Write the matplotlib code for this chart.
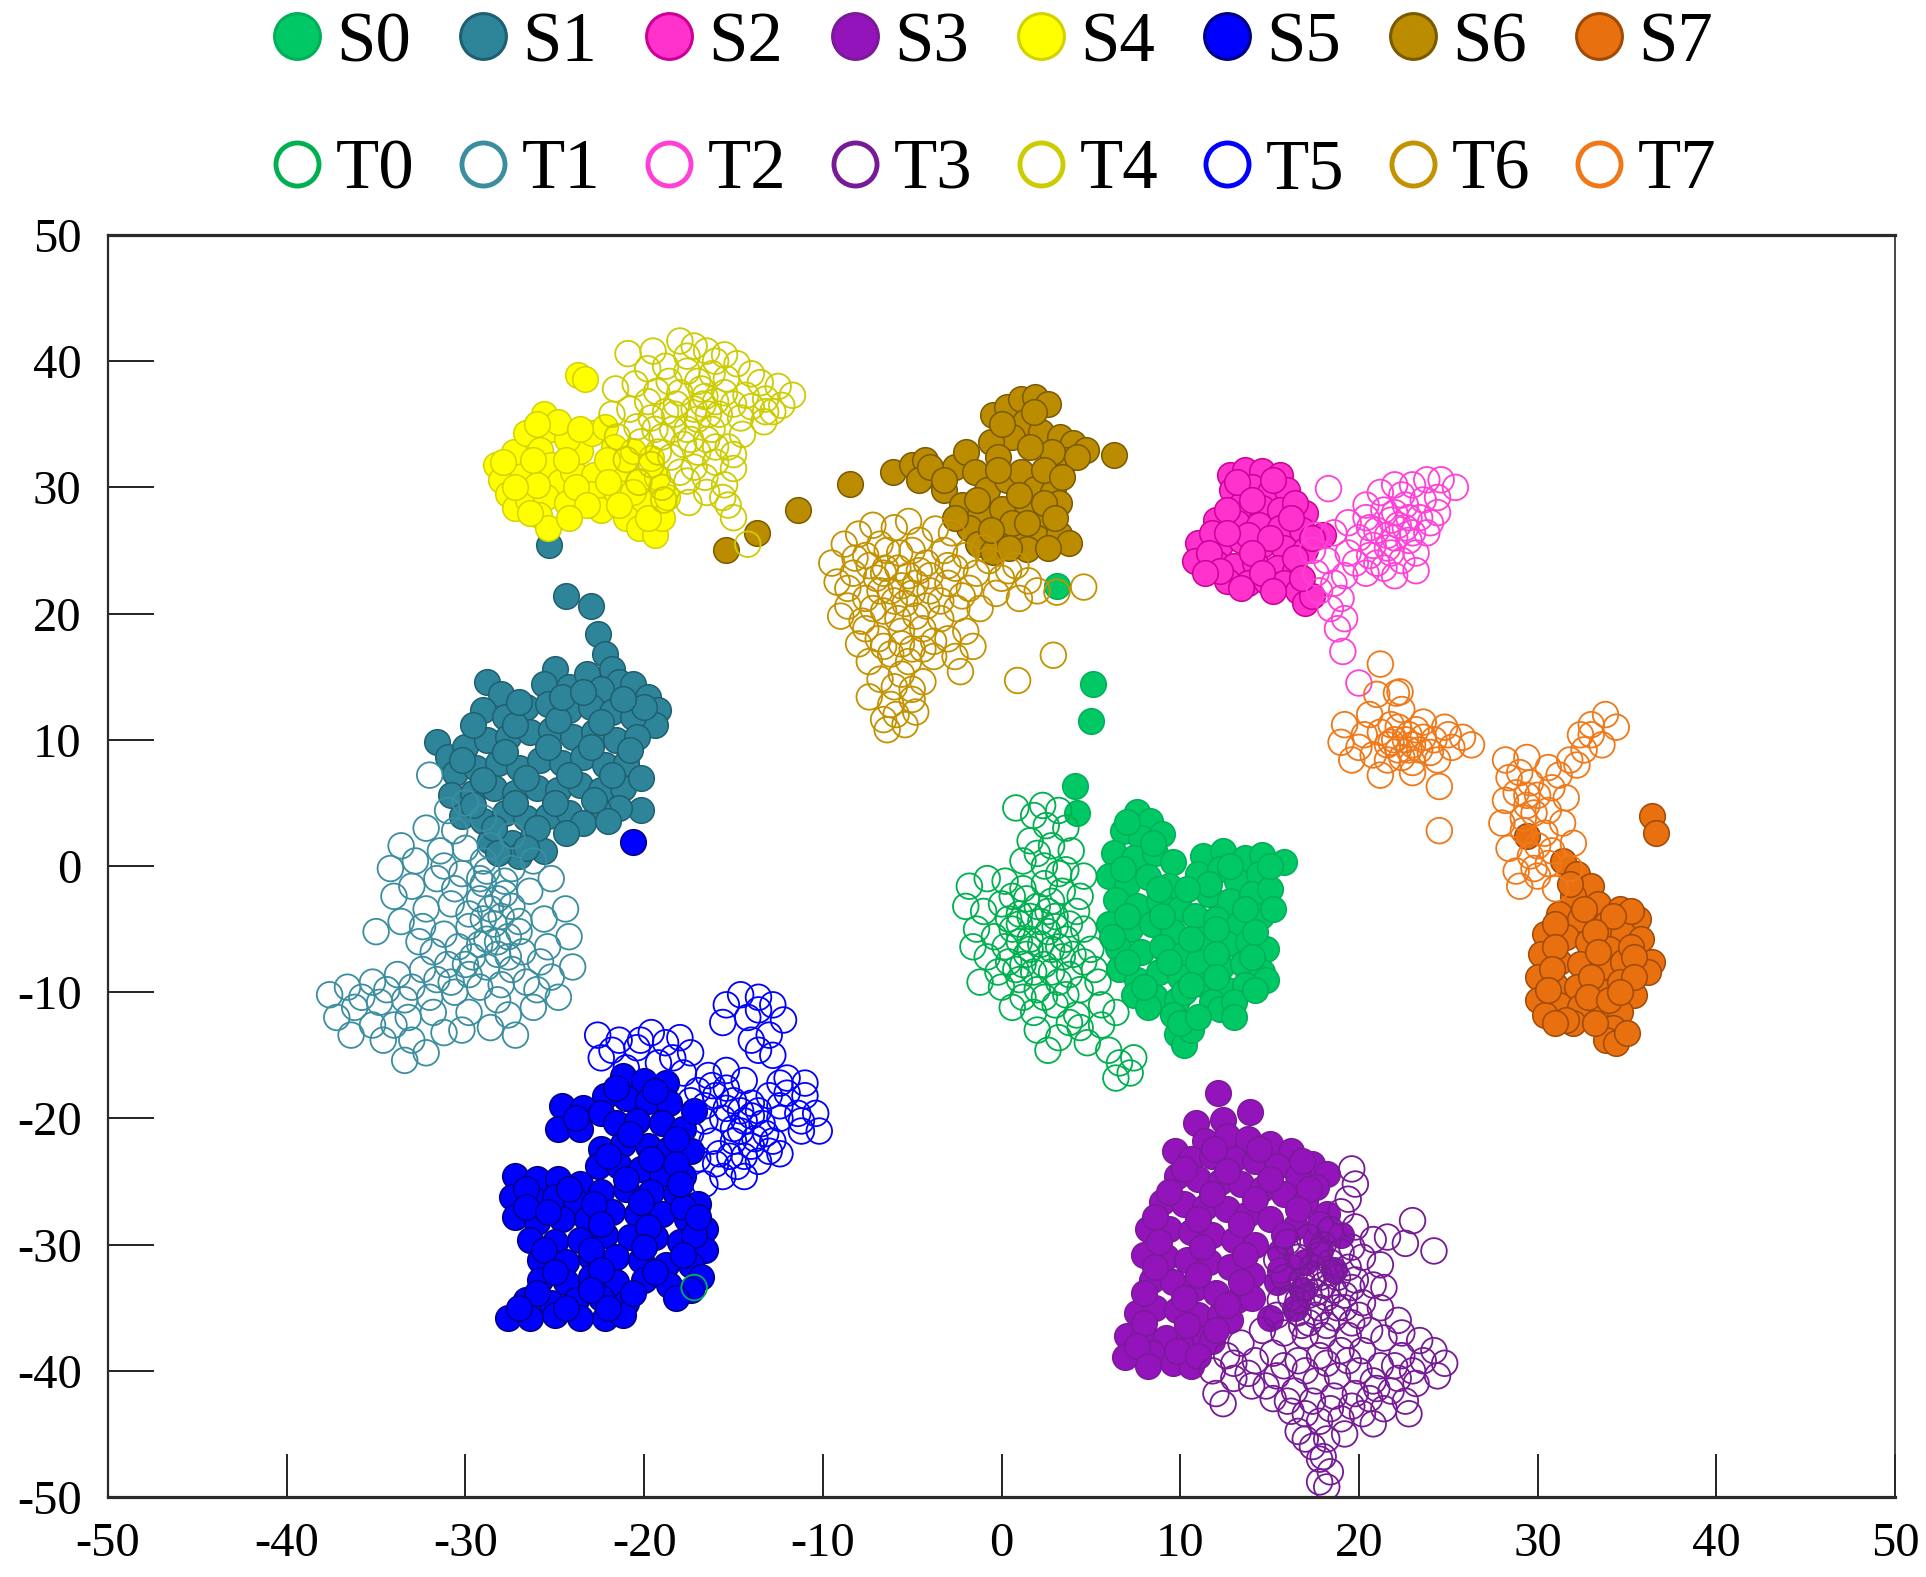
import numpy as np
import matplotlib
matplotlib.use('Agg')
import matplotlib.pyplot as plt
from matplotlib.lines import Line2D

plt.rcParams['font.family'] = ['Liberation Serif', 'DejaVu Serif']
plt.rcParams['axes.unicode_minus'] = False

# ---- source domain (filled) ----
s0 = np.array([(7.6,4.3),(8.3,3.6),(6.8,2.8),(7.8,2.2),(9.0,2.5),(6.3,1.0),(7.4,0.6),(8.6,1.0),(9.6,0.3),
      (6.0,-0.8),(7.0,-1.4),(8.2,-0.9),(9.4,-1.6),(6.4,-2.7),(7.6,-3.2),(8.8,-2.8),(10.0,-3.4),(6.0,-4.6),
      (7.2,-5.0),(8.4,-4.6),(9.6,-5.2),(6.5,-6.5),(7.8,-6.8),(9.0,-6.4),(10.2,-7.0),(6.6,-8.2),(7.6,-9.0),
      (8.8,-8.4),(10.0,-8.8),(7.4,-10.2),(8.6,-10.4),(9.8,-10.6),(9.6,-11.8),(10.4,-12.4),(9.8,-13.3),
      (10.2,-14.2),(10.6,-13.0),(8.2,-11.2),(11.3,0.8),(12.4,1.2),(13.6,0.6),(14.6,0.9),(15.8,0.3),
      (11.0,-0.6),(12.2,-0.2),(13.2,-1.2),(14.4,-0.6),(11.6,-2.2),(12.8,-2.8),(14.0,-2.2),(15.0,-1.8),
      (10.8,-4.0),(12.0,-4.2),(13.3,-4.6),(14.5,-4.0),(11.3,-5.8),(12.6,-6.2),(13.8,-6.0),(14.8,-6.6),
      (11.0,-7.6),(12.3,-8.0),(13.5,-7.8),(14.6,-8.4),(11.4,-9.4),(12.6,-9.8),(13.6,-9.4),(14.8,-9.0),
      (11.8,-10.8),(12.2,-11.3),(13.0,-10.8),(3.1,22.2),(5.1,14.4),(5.0,11.5),(4.1,6.3),(4.2,4.2),
      (7.0,3.5),(8.5,1.8),(6.8,-0.2),(8.8,-1.8),(7.0,-4.0),(9.0,-4.0),(7.0,-7.6),(9.4,-7.6),(8.0,-9.6),
      (6.2,-5.6),(10.2,-10.0),(10.0,-12.4),(11.6,-1.4),(13.6,-3.4),(12.0,-5.0),(14.2,-5.2),(12.0,-7.0),
      (14.0,-7.2),(12.0,-8.8),(14.2,-9.8),(12.8,0.0),(15.0,0.0),(13.0,-12.0),(11.0,-12.0),(15.2,-3.4),
      (10.4,-1.8),(10.6,-5.8),(10.6,-9.4)])
s1 = np.array([(-25.3,25.4),(-24.4,21.4),(-23.0,20.6),(-22.6,18.4),(-22.2,16.8),(-21.8,15.6),(-21.4,14.6),
      (-28.8,14.6),(-28.0,13.6),(-25.0,15.6),(-25.6,14.4),(-24.2,14.2),(-23.2,15.2),(-22.4,14.0),(-20.6,14.4),
      (-19.8,13.4),(-19.2,12.4),(-19.4,11.2),(-29.0,12.4),(-27.8,11.8),(-26.6,12.6),(-25.4,12.8),(-24.2,12.4),
      (-23.0,12.6),(-21.8,12.2),(-20.6,11.8),(-31.6,9.8),(-31.0,8.6),(-30.0,9.4),(-28.8,10.0),(-27.6,10.2),
      (-26.4,10.6),(-25.2,10.8),(-24.0,10.2),(-22.8,10.6),(-21.6,10.0),(-20.4,10.2),(-30.6,7.4),(-29.4,7.8),
      (-28.2,8.2),(-27.0,7.8),(-25.8,8.4),(-24.6,8.2),(-23.4,8.6),(-22.2,8.0),(-21.0,8.2),(-30.8,5.6),
      (-29.6,5.8),(-28.4,6.2),(-27.2,5.8),(-26.0,6.2),(-24.8,6.0),(-23.6,6.4),(-22.4,6.0),(-21.2,6.2),
      (-20.2,4.4),(-21.4,4.6),(-22.6,4.4),(-30.2,4.0),(-29.0,3.6),(-27.8,4.2),(-26.6,3.8),(-25.4,4.0),
      (-24.2,4.2),(-28.6,2.0),(-27.4,1.8),(-26.2,2.4),(-27.0,0.8),(-25.6,1.2),
      (-29.6,11.2),(-27.2,11.2),(-24.8,11.6),(-22.4,11.4),(-20.0,12.6),(-30.2,8.4),(-27.8,9.0),(-25.4,9.4),
      (-23.0,9.4),(-20.8,9.2),(-29.0,6.8),(-26.6,7.0),(-24.2,7.2),(-21.8,7.2),(-20.2,7.0),(-29.6,4.8),
      (-27.2,5.0),(-25.0,5.0),(-22.8,5.2),(-28.4,3.0),(-26.0,3.0),(-23.4,3.4),(-28.2,1.0),(-26.6,1.4),
      (-27.0,13.0),(-24.6,13.4),(-21.2,13.2),(-23.4,13.8),(-22.0,3.6),(-24.4,2.6)])
s2 = np.array([(12.8,31.0),(13.6,31.4),(14.6,31.3),(15.6,31.0),(12.9,29.8),(14.0,30.0),(15.0,29.6),(16.0,29.8),
      (13.4,28.6),(14.6,28.4),(15.6,28.2),(17.0,28.0),(12.0,27.4),(13.2,27.2),(14.4,27.0),(15.6,26.8),
      (16.8,26.6),(18.0,26.2),(11.0,25.6),(12.2,25.4),(13.4,25.8),(14.6,25.4),(15.8,25.2),(17.0,25.0),
      (10.8,24.2),(12.0,24.0),(13.0,23.8),(14.2,24.0),(15.4,23.6),(16.4,23.4),(12.6,22.6),(13.8,22.4),
      (14.8,22.6),(15.8,22.4),(16.6,21.8),(17.0,20.8),(17.4,21.4),(11.8,26.4),(13.4,22.0),
      (13.2,30.4),(15.2,30.6),(14.0,29.0),(16.4,28.8),(12.6,28.2),(13.8,26.2),(16.2,27.6),(12.6,26.4),
      (15.0,26.0),(17.4,26.0),(11.6,24.8),(14.0,24.8),(16.4,24.4),(12.2,23.4),(14.6,23.2),(16.8,22.8),
      (15.2,21.8),(11.4,23.2)])
s3 = np.array([(12.1,-18.0),(13.9,-19.5),(12.4,-20.1),(10.9,-20.4),(9.7,-22.6),(11.4,-21.8),(12.6,-21.4),
      (13.8,-21.6),(15.0,-22.0),(16.2,-22.6),(17.4,-23.6),(18.2,-24.4),(10.6,-23.2),(11.8,-23.0),(13.0,-23.2),
      (14.2,-23.4),(15.4,-23.8),(16.6,-24.6),(17.6,-25.4),(9.8,-24.6),(11.0,-24.8),(12.2,-25.0),(13.4,-25.2),
      (14.6,-25.6),(15.8,-26.0),(17.0,-26.6),(18.2,-27.6),(9.0,-26.6),(10.2,-26.8),(11.4,-27.0),(12.6,-27.2),
      (13.8,-27.6),(15.0,-28.0),(16.4,-28.6),(17.6,-29.6),(8.2,-28.8),(9.4,-28.8),(10.6,-29.0),(11.8,-29.2),
      (13.0,-29.6),(14.2,-30.0),(15.6,-30.6),(17.0,-31.4),(18.6,-32.0),(8.0,-30.8),(9.2,-31.0),(10.4,-31.2),
      (11.6,-31.4),(12.8,-31.8),(14.0,-32.4),(15.4,-33.0),(16.8,-33.6),(8.4,-32.8),(9.6,-33.0),(10.8,-33.4),
      (12.0,-33.8),(13.2,-34.4),(14.0,-34.2),(7.6,-35.4),(8.6,-35.0),(9.8,-35.2),(11.0,-35.6),(12.2,-35.6),
      (12.8,-36.0),(7.0,-37.2),(8.0,-37.0),(9.2,-37.4),(10.4,-37.8),(11.4,-37.4),(11.8,-37.6),(6.9,-38.9),
      (8.4,-38.6),(9.6,-39.4),(10.6,-39.6),
      (11.9,-22.4),(14.4,-22.4),(16.8,-23.4),(10.2,-24.0),(12.6,-24.2),(15.0,-24.8),(17.2,-25.6),(9.4,-25.8),
      (11.8,-26.0),(14.2,-26.4),(16.6,-27.2),(8.6,-27.8),(11.0,-28.0),(13.4,-28.4),(15.8,-29.2),(17.8,-28.4),
      (8.8,-29.8),(11.2,-30.2),(13.6,-30.8),(16.2,-31.8),(8.6,-31.8),(11.0,-32.4),(13.4,-33.0),(15.6,-32.0),
      (8.0,-33.8),(10.2,-34.2),(12.6,-34.8),(8.0,-36.2),(10.4,-36.4),(12.0,-36.8),(7.6,-38.0),(9.8,-38.4),
      (8.2,-39.6),(11.0,-38.8),(17.8,-30.4),(19.0,-29.2),(16.4,-35.0),(15.0,-35.8)])
s4 = np.array([(-28.3,31.8),(-28.0,30.6),(-27.6,29.5),(-27.2,28.4),(-26.5,29.0),(-26.8,31.0),(-27.3,32.8),
      (-26.6,34.3),(-25.6,35.8),(-25.2,34.6),(-25.8,33.0),(-25.2,31.8),(-24.7,30.4),(-25.5,29.2),(-25.9,27.8),
      (-25.4,26.8),(-24.3,28.8),(-24.0,31.2),(-23.6,32.9),(-24.3,33.8),(-22.9,34.3),(-22.2,34.8),(-21.7,33.2),
      (-22.8,31.0),(-23.0,29.5),(-22.4,28.2),(-21.6,29.7),(-21.2,31.5),(-20.6,32.9),(-20.3,30.5),(-20.0,28.9),
      (-21.0,27.6),(-20.3,26.8),(-19.4,26.2),(-19.0,27.6),(-18.7,29.2),(-19.3,30.8),(-19.6,32.3),(-23.7,38.9),
      (-23.3,38.6),(-26.0,30.2),(-23.8,30.0),(-22.1,32.2),(-27.9,32.0),(-24.8,35.2),
      (-27.2,30.0),(-26.2,32.2),(-24.4,32.2),(-23.2,28.6),(-22.0,30.4),(-20.6,29.6),(-19.8,27.6),(-24.2,27.6),
      (-26.0,35.0),(-23.6,34.6),(-21.4,28.6),(-26.4,28.0)])
s5 = np.array([(-21.2,-16.6),(-20.0,-17.0),(-18.8,-17.2),(-22.2,-18.2),(-21.0,-18.4),(-19.8,-18.6),(-18.6,-18.8),
      (-24.6,-19.0),(-23.4,-19.2),(-22.4,-19.6),(-24.8,-20.8),(-23.6,-20.8),(-21.6,-20.4),(-20.4,-20.2),
      (-19.0,-20.4),(-17.8,-20.8),(-17.2,-19.4),(-22.4,-22.4),(-21.2,-22.0),(-19.8,-22.2),(-18.6,-22.4),
      (-17.4,-22.6),(-22.6,-23.8),(-21.4,-23.8),(-20.2,-24.0),(-19.0,-24.4),(-17.8,-24.6),(-27.2,-24.6),
      (-26.0,-24.8),(-24.8,-24.8),(-23.6,-25.2),(-27.4,-26.2),(-26.2,-26.4),(-25.0,-26.2),(-23.8,-26.6),
      (-22.4,-25.8),(-21.0,-25.6),(-19.6,-25.8),(-18.2,-26.0),(-17.0,-26.8),(-27.2,-27.8),(-26.0,-28.2),
      (-24.6,-28.0),(-23.2,-28.0),(-21.8,-27.4),(-20.4,-27.6),(-19.0,-27.6),(-17.6,-28.0),(-16.6,-28.8),
      (-26.4,-29.6),(-25.0,-29.8),(-23.6,-29.6),(-22.2,-29.2),(-20.8,-29.4),(-19.4,-29.4),(-18.0,-29.8),
      (-16.6,-30.4),(-25.8,-31.2),(-24.4,-31.4),(-23.0,-31.0),(-21.6,-31.0),(-20.2,-31.2),(-18.8,-31.6),
      (-17.4,-31.6),(-16.8,-32.6),(-25.8,-32.8),(-24.4,-33.0),(-23.0,-32.6),(-21.6,-33.0),(-20.0,-32.8),
      (-18.6,-33.2),(-17.4,-33.6),(-26.6,-34.4),(-25.2,-34.6),(-23.8,-34.4),(-22.4,-34.2),(-21.0,-34.6),
      (-27.6,-35.8),(-26.4,-35.8),(-25.0,-35.6),(-23.6,-35.8),(-22.2,-35.8),(-21.2,-35.6),(-20.6,1.9),
      (-21.6,-17.6),(-19.4,-17.8),(-23.8,-20.0),(-20.8,-21.2),(-18.2,-21.6),(-22.0,-23.0),(-19.6,-23.2),
      (-18.2,-23.6),(-21.0,-24.8),(-26.6,-25.6),(-24.2,-25.6),(-22.8,-26.8),(-20.2,-26.6),(-17.8,-27.0),
      (-26.6,-27.0),(-25.4,-27.4),(-22.4,-28.4),(-19.8,-28.6),(-17.2,-29.2),(-25.6,-30.4),(-23.0,-30.4),
      (-20.0,-30.2),(-17.8,-30.8),(-25.0,-32.2),(-22.4,-32.0),(-19.4,-32.2),(-26.0,-33.8),(-23.0,-33.6),
      (-20.6,-33.8),(-18.2,-34.2),(-27.0,-35.0),(-24.4,-35.0),(-22.0,-35.0),(-17.0,-27.8),(-18.0,-25.2)])
s6 = np.array([(-15.4,25.0),(-13.7,26.4),(-11.4,28.2),(-8.5,30.3),(-6.1,31.2),(6.3,32.6),(-5.0,31.8),(-4.3,32.2),
      (-3.8,31.0),(-4.6,30.6),(-3.2,29.8),(-2.6,31.6),(-2.0,32.8),(-0.5,35.7),(0.3,36.4),(1.1,37.0),(1.9,37.2),
      (2.6,36.6),(1.3,35.2),(2.2,34.4),(0.6,34.0),(-0.6,33.6),(3.3,34.0),(4.0,33.5),(4.7,33.0),(3.6,32.2),
      (2.8,32.8),(-1.5,31.2),(-0.8,29.8),(0.3,30.6),(1.1,31.2),(1.9,29.9),(2.9,29.6),(3.2,28.8),(-2.2,28.6),
      (-1.2,27.8),(0.0,28.3),(1.5,28.4),(2.5,27.4),(-1.8,26.8),(-1.3,25.5),(-0.2,25.8),(0.8,26.2),(2.0,26.0),
      (3.2,26.3),(3.8,25.6),(1.4,25.1),(-0.5,24.9),
      (-4.0,31.6),(-3.2,30.6),(0.0,35.0),(1.8,36.0),(1.6,33.2),(-0.2,32.4),(2.4,31.4),(4.2,32.4),(-0.2,31.4),
      (1.0,29.4),(2.4,28.8),(-1.4,29.0),(0.6,27.2),(-0.6,26.6),(1.4,27.2),(3.0,27.6),(2.6,25.2),(0.4,25.2),
      (3.4,30.8),(-2.6,27.6)])
s7 = np.array([(31.4,0.4),(32.2,-0.6),(33.0,-1.6),(32.0,-2.4),(33.4,-3.0),(34.6,-3.4),(35.6,-4.2),(31.2,-3.8),
      (32.4,-4.2),(33.8,-4.6),(34.8,-5.4),(35.8,-5.8),(30.4,-5.4),(31.6,-5.6),(32.8,-6.0),(34.0,-6.6),
      (30.2,-7.0),(31.2,-7.6),(32.4,-7.8),(33.6,-8.0),(34.8,-7.6),(36.4,-7.6),(36.2,-8.4),(30.0,-8.8),
      (31.0,-9.4),(32.2,-9.6),(33.4,-9.8),(34.6,-9.2),(35.4,-10.2),(30.0,-10.6),(31.2,-11.0),(32.4,-11.2),
      (33.6,-11.4),(34.6,-11.6),(30.4,-11.8),(32.0,-12.4),(34.2,-12.8),(33.8,-13.8),(34.4,-14.0),(35.0,-13.2),
      (29.4,2.4),(36.4,4.0),(36.6,2.6),(35.2,-3.6),
      (31.8,-1.4),(32.6,-3.4),(34.2,-4.0),(31.0,-4.6),(33.2,-5.2),(35.2,-6.4),(31.0,-6.4),(33.4,-6.8),
      (35.4,-7.2),(30.8,-8.2),(33.0,-8.8),(35.4,-8.8),(30.6,-9.8),(32.8,-10.4),(34.0,-10.6),(31.6,-12.2),
      (33.2,-12.4),(31.0,-12.4),(34.6,-10.0)])

# ---- target domain (hollow) ----
t0 = np.array([(2.3,4.8),(3.2,4.4),(2.5,3.2),(3.6,3.0),(1.6,2.0),(2.8,1.6),(3.9,1.2),(1.2,0.4),(2.4,0.0),
      (3.6,-0.3),(4.6,-0.8),(-1.8,-1.6),(-0.8,-1.0),(0.2,-1.2),(1.2,-1.8),(2.4,-1.4),(3.4,-2.0),(4.4,-2.4),
      (-2.0,-3.2),(-1.0,-3.6),(0.0,-3.0),(1.0,-3.8),(2.0,-3.2),(3.0,-4.0),(4.2,-3.6),(-1.4,-5.0),(-0.4,-5.6),
      (0.6,-5.0),(1.6,-5.8),(2.6,-5.2),(3.6,-5.8),(4.6,-5.0),(-0.8,-7.2),(0.4,-7.6),(1.4,-7.0),(2.4,-7.8),
      (3.4,-7.2),(4.6,-7.6),(-1.2,-9.2),(0.0,-9.6),(1.0,-9.0),(2.0,-9.8),(3.2,-9.2),(4.4,-9.8),(5.4,-9.2),
      (0.6,-11.2),(1.8,-11.6),(3.0,-11.0),(4.2,-11.8),(5.6,-11.0),(2.0,-13.0),(3.2,-13.6),(4.4,-12.8),
      (5.6,-12.6),(6.4,-11.6),(6.0,-14.6),(6.6,-15.6),(7.2,-16.4),(6.4,-16.8),(7.4,-15.2),(2.6,-14.6),
      (0.8,4.6),(1.8,4.0),(-17.2,-33.4),
      (1.0,-4.6),(2.2,-4.4),(3.0,-4.8),(1.6,-6.6),(2.8,-6.6),(1.8,-8.4),(2.8,-8.4),(3.8,-8.6),(0.8,-8.2),
      (1.4,-2.6),(2.8,-2.8),(0.6,-2.4),(3.2,-0.6),(2.0,1.0),(1.2,-10.4),(2.4,-10.4),(3.6,-10.2),(3.8,-12.4),
      (4.8,-14.0),(-1.6,-6.4),(5.0,-6.6),(5.2,-8.2),(-0.2,-8.4),
      (0.4,-4.2),(1.6,-4.0),(2.6,-3.6),(3.8,-4.6),(0.2,-6.4),(1.0,-6.0),(2.2,-6.2),(3.2,-6.4),(4.0,-7.0),
      (1.2,-7.8)])
t1 = np.array([(-32.0,7.2),(-31.0,4.4),(-30.0,5.0),(-29.0,3.8),(-30.6,2.8),(-32.2,3.0),(-33.6,1.6),(-34.2,-0.2),
      (-32.8,0.4),(-31.4,1.2),(-30.0,1.4),(-28.6,1.6),(-27.4,2.4),(-26.2,0.4),(-27.4,-0.2),(-28.8,-0.4),
      (-30.2,-0.6),(-31.6,-1.0),(-33.0,-1.6),(-34.0,-2.4),(-25.2,-1.0),(-26.4,-2.0),(-27.8,-2.2),(-29.2,-2.6),
      (-30.8,-3.0),(-32.2,-3.4),(-33.6,-4.4),(-35.0,-5.2),(-24.4,-3.4),(-25.6,-4.2),(-27.0,-4.4),(-28.4,-4.6),
      (-29.8,-4.8),(-31.2,-5.4),(-32.6,-6.0),(-24.2,-5.6),(-25.4,-6.4),(-26.8,-6.8),(-28.2,-7.0),(-29.6,-7.2),
      (-31.0,-7.8),(-32.4,-8.2),(-33.8,-8.6),(-35.2,-9.2),(-36.6,-9.6),(-37.6,-10.2),(-24.0,-8.0),(-25.2,-8.8),
      (-26.6,-9.2),(-28.0,-9.4),(-29.2,-9.6),(-30.6,-10.0),(-32.0,-10.4),(-33.4,-10.6),(-34.8,-10.8),
      (-36.2,-11.2),(-37.2,-12.0),(-36.4,-13.4),(-35.2,-12.6),(-34.0,-12.6),(-33.0,-13.8),(-32.2,-14.8),
      (-31.2,-13.2),(-33.4,-15.4),(-24.8,-10.4),(-26.2,-11.2),(-27.6,-11.8),(-28.6,-12.8),(-27.2,-13.4),
      (-29.8,-11.6),
      (-29.8,-3.8),(-28.6,-3.4),(-27.4,-3.2),(-28.8,-5.8),(-27.6,-5.6),(-30.4,-6.4),(-29.0,-1.4),(-27.8,-1.2),
      (-30.6,-1.8),(-29.8,-8.6),(-27.4,-8.2),(-31.6,-9.0),(-33.0,-9.6),(-34.4,-9.8),(-35.8,-10.4),(-33.2,-12.0),
      (-31.8,-11.6),(-30.2,-13.0),(-29.0,0.4),(-31.2,0.0),(-32.4,-4.8),(-25.8,-7.6),(-26.0,-9.8),(-28.2,-10.6),
      (-34.6,-13.8),
      (-29.2,-1.0),(-28.2,-2.6),(-29.0,-4.2),(-28.0,-4.0),(-27.0,-5.2),(-29.2,-6.2),(-28.2,-6.0),(-30.0,-7.8),
      (-28.8,-8.0),(-27.6,-7.2),(-31.8,-6.8),(-30.8,-9.2)])
t2 = np.array([(18.3,29.9),(21.2,29.6),(22.0,30.2),(23.0,30.2),(23.8,30.6),(24.6,30.6),(25.4,30.0),(23.6,29.0),
      (22.6,28.6),(21.4,28.2),(20.4,27.6),(19.4,27.2),(24.4,28.0),(23.4,27.6),(22.2,27.0),(21.0,26.6),
      (20.0,26.0),(18.6,26.4),(17.6,26.2),(23.8,26.4),(22.8,25.8),(21.6,25.2),(20.6,24.6),(19.4,24.8),
      (18.2,24.2),(22.4,24.2),(21.4,23.6),(20.4,23.2),(19.2,23.0),(23.2,24.8),(18.6,22.4),(17.8,21.8),
      (19.0,21.2),(18.4,20.4),(19.2,19.6),(18.8,18.8),(19.1,17.0),(20.0,14.5),(24.4,29.2),(17.4,25.0),
      (17.6,23.2),
      (22.8,27.6),(21.8,27.4),(20.8,25.4),(22.0,26.0),(23.0,26.4),(21.0,24.0),(19.8,24.0),(24.0,27.2),
      (22.4,29.4),(20.4,28.6),(23.2,23.4),(22.0,23.0),(22.0,28.0),(21.6,26.2),(22.6,26.8),(20.6,26.8),
      (21.8,24.8)])
t3 = np.array([(19.6,-24.0),(19.8,-25.2),(19.4,-26.4),(19.0,-27.4),(23.0,-28.1),(22.6,-29.9),(24.2,-30.5),
      (21.6,-29.4),(16.0,-29.8),(17.2,-29.4),(18.4,-28.8),(19.8,-28.6),(20.8,-29.6),(15.4,-31.2),(16.6,-31.0),
      (17.8,-30.8),(19.0,-30.6),(20.2,-31.0),(21.2,-31.6),(15.8,-32.6),(16.8,-32.8),(17.8,-32.6),(18.8,-32.6),
      (19.8,-32.8),(20.8,-33.2),(16.2,-34.2),(17.2,-34.0),(18.2,-34.2),(19.2,-34.0),(20.2,-34.6),(21.2,-35.0),
      (15.4,-35.6),(16.6,-35.4),(17.6,-35.6),(18.6,-35.8),(19.6,-36.2),(20.6,-36.8),(14.6,-36.8),(15.8,-37.0),
      (17.0,-37.2),(18.0,-37.2),(11.8,-40.0),(12.6,-38.8),(13.4,-37.8),(13.0,-40.6),(14.2,-39.2),(15.2,-38.6),
      (14.0,-41.2),(15.4,-40.4),(16.6,-39.2),(17.8,-38.8),(19.0,-38.4),(20.2,-38.4),(21.4,-37.4),(22.4,-37.0),
      (23.4,-37.6),(24.2,-38.4),(24.8,-39.4),(23.6,-39.2),(22.4,-38.8),(21.2,-39.6),(20.0,-40.0),(18.8,-40.4),
      (17.6,-40.8),(16.4,-41.6),(15.2,-42.2),(16.2,-43.2),(17.4,-42.4),(18.6,-42.0),(19.8,-41.8),(21.0,-41.4),
      (22.2,-40.6),(23.2,-41.0),(24.4,-40.4),(22.6,-42.4),(21.4,-43.0),(20.2,-43.4),(19.0,-43.8),(17.8,-44.0),
      (16.6,-44.8),(17.4,-46.0),(18.2,-45.4),(17.8,-47.0),(18.4,-48.0),(17.8,-48.8),(18.2,-49.2),(19.2,-45.0),
      (12.0,-41.8),
      (17.4,-31.8),(18.4,-31.4),(19.4,-31.8),(17.0,-33.4),(18.0,-33.2),(19.6,-33.4),(16.8,-36.4),(18.2,-36.4),
      (19.4,-37.2),(13.8,-40.2),(15.8,-39.6),(17.0,-40.0),(18.2,-39.4),(19.4,-39.2),(20.8,-40.8),(22.0,-39.6),
      (23.0,-40.0),(14.8,-41.2),(16.0,-42.4),(17.0,-43.4),(18.4,-43.0),(19.6,-42.8),(20.6,-42.2),(21.8,-41.6),
      (18.0,-46.8),(17.0,-45.4),(13.0,-39.4),(12.4,-42.6),(22.8,-43.4),(20.8,-44.2),(18.8,-35.0),(21.4,-33.4),
      (22.2,-36.0),
      (17.6,-33.8),(18.6,-33.6),(17.4,-32.4),(18.4,-32.2),(19.2,-35.0),(17.8,-35.0),(16.6,-34.4),(18.0,-30.0),
      (17.2,-36.2),(15.6,-34.4),(20.0,-35.6),(19.6,-30.2)])
t4 = np.array([(-20.9,40.6),(-19.5,40.8),(-18.0,41.6),(-17.2,41.2),(-16.5,40.8),(-15.5,40.5),(-14.8,39.8),
      (-14.0,39.0),(-18.8,39.6),(-17.6,39.2),(-16.2,39.0),(-21.6,37.8),(-20.5,38.2),(-19.3,37.6),(-18.0,37.5),
      (-16.8,37.8),(-15.5,37.5),(-14.3,37.3),(-13.2,37.0),(-12.3,36.5),(-11.7,37.3),(-12.5,38.0),(-13.5,38.3),
      (-21.8,35.8),(-20.8,36.2),(-19.6,35.5),(-18.3,35.8),(-17.0,35.4),(-15.8,35.8),(-14.6,35.5),(-13.3,35.2),
      (-12.8,36.0),(-21.5,34.0),(-20.2,33.6),(-19.0,34.0),(-17.8,33.4),(-16.5,33.8),(-15.3,33.2),(-14.5,34.2),
      (-21.0,32.2),(-19.6,31.8),(-18.5,32.4),(-17.2,31.6),(-16.0,32.0),(-15.0,31.5),(-20.3,30.4),(-19.0,30.0),
      (-17.6,30.5),(-16.5,29.6),(-15.5,30.2),(-18.9,29.0),(-17.5,28.8),(-15.3,28.6),(-15.0,27.6),(-15.6,29.2),
      (-14.2,25.5),(-16.7,36.6),(-18.6,38.4),(-15.0,36.6),
      (-17.0,38.4),(-18.2,36.6),(-16.0,36.8),(-17.6,34.6),(-16.2,34.6),(-19.8,36.8),(-19.2,32.8),(-17.0,32.8),
      (-18.0,31.2),(-16.6,30.8),(-14.0,36.4),(-15.4,38.6),(-19.8,39.4),(-20.4,34.8),(-15.0,32.6),(-13.2,36.0),
      (-17.6,40.4),(-16.0,40.0),(-18.4,34.6),(-17.2,36.2),(-16.4,35.8),(-18.8,36.0),(-17.4,33.8),(-16.6,37.2),
      (-19.4,34.6),(-16.0,33.2)])
t5 = np.array([(-15.4,-11.0),(-14.6,-10.2),(-13.6,-10.4),(-12.8,-11.0),(-14.2,-12.0),(-12.2,-12.2),(-13.0,-13.4),
      (-13.6,-14.6),(-12.8,-15.0),(-15.6,-12.4),(-22.6,-13.4),(-22.4,-15.2),(-21.4,-13.8),(-20.4,-14.4),
      (-19.6,-13.2),(-18.8,-14.0),(-18.0,-13.6),(-17.4,-14.8),(-19.2,-15.6),(-21.0,-16.0),(-17.8,-16.4),
      (-16.4,-16.6),(-15.4,-16.2),(-14.4,-17.0),(-17.0,-17.8),(-16.0,-18.2),(-15.0,-18.6),(-14.0,-18.8),
      (-13.0,-18.2),(-12.0,-18.0),(-11.0,-18.2),(-10.4,-19.6),(-11.4,-19.6),(-12.4,-20.0),(-13.4,-20.4),
      (-14.4,-20.2),(-15.6,-20.0),(-16.6,-20.2),(-17.4,-21.2),(-16.2,-21.8),(-15.0,-21.8),(-14.0,-22.2),
      (-12.8,-21.8),(-11.2,-21.0),(-10.2,-21.0),(-17.0,-23.2),(-16.0,-23.6),(-14.8,-23.8),(-13.6,-23.4),
      (-12.4,-22.8),(-16.6,-25.2),(-15.6,-24.6),(-14.4,-24.6),(-17.4,-18.6),(-12.0,-16.8),(-11.0,-17.2),
      (-14.6,-19.4),(-15.4,-19.2),(-13.6,-19.4),(-12.4,-19.0),(-14.6,-21.0),(-13.2,-21.2),(-15.8,-22.8),
      (-14.4,-23.0),(-16.2,-17.4),(-15.4,-17.6),(-20.2,-13.8),(-21.8,-14.6),(-18.4,-15.2),(-11.2,-20.2),
      (-13.6,-11.4),(-14.0,-13.8),(-16.6,-19.0),(-12.4,-17.2),(-14.0,-19.8),(-15.0,-20.8),(-13.8,-21.6),
      (-15.2,-23.0),(-13.0,-22.6)])
t6 = np.array([(-9.5,24.0),(-9.2,22.5),(-8.8,25.5),(-8.3,23.2),(-8.0,26.3),(-7.6,24.6),(-7.2,27.0),(-6.8,25.5),
      (-6.5,23.6),(-6.0,26.8),(-5.7,24.8),(-5.2,27.3),(-4.6,25.8),(-4.2,24.0),(-3.7,26.7),(-3.2,25.0),
      (-2.6,23.6),(-2.0,24.6),(-1.4,23.2),(-0.7,24.2),(0.0,22.8),(0.8,23.8),(1.5,22.6),(2.0,21.8),(-0.3,21.6),
      (1.0,21.2),(-1.8,22.0),(-3.0,22.4),(-4.8,22.4),(-6.2,21.8),(-7.6,21.2),(-8.6,20.6),(-9.0,19.8),
      (-7.8,19.4),(-6.6,20.2),(-5.4,20.8),(-4.2,20.6),(-3.4,19.6),(-2.5,20.4),(-2.0,18.6),(-3.0,18.0),
      (-4.4,18.8),(-5.6,18.6),(-6.9,18.0),(-8.0,17.6),(-7.4,16.2),(-6.2,16.8),(-5.0,17.2),(-3.8,16.6),
      (-2.6,16.6),(-1.6,17.4),(-2.3,15.4),(-6.8,14.8),(-5.6,15.2),(-4.4,14.6),(-7.4,13.4),(-6.2,12.8),
      (-5.0,13.2),(-6.6,11.6),(-5.4,11.2),(-5.9,12.0),(4.6,22.1),(2.9,16.7),(0.9,14.7),(3.1,21.7),
      (-8.2,24.4),(-7.0,22.8),(-5.6,22.2),(-4.0,23.0),(-5.0,25.0),(-6.4,25.0),(-3.0,23.8),(-2.2,21.4),
      (-7.2,20.4),(-5.8,19.6),(-4.8,19.8),(-3.8,17.8),(-6.6,17.4),(-5.2,16.2),(-6.0,14.2),(-4.8,12.2),
      (-6.4,10.8),(-1.2,20.4),(0.4,23.4),(-1.0,25.2),(-2.8,26.4),(-8.6,22.0),(-7.6,18.8),(-5.0,14.0),
      (-6.6,23.2),(-5.8,23.6),(-4.6,23.4),(-6.0,21.0),(-5.0,21.6),(-4.0,21.8),(-6.8,21.8),(-5.6,17.6),
      (-4.4,17.2),(-3.4,21.0),(-7.4,23.8),(-5.2,23.0)])
t7 = np.array([(19.2,11.2),(19.0,9.8),(19.6,8.4),(20.3,10.4),(20.6,12.0),(20.8,8.8),(21.2,7.2),(21.6,9.6),
      (21.8,11.2),(22.4,12.4),(22.4,8.6),(22.8,10.4),(23.0,7.4),(23.4,9.2),(23.6,11.4),(24.2,10.0),(24.4,8.4),
      (24.8,11.0),(25.2,9.4),(25.8,10.2),(26.3,9.6),(21.0,13.6),(22.3,13.8),(24.5,6.3),(24.5,2.8),(21.2,16.0),
      (22.1,13.7),(33.8,12.0),(34.4,11.0),(33.0,10.4),(32.6,9.2),(33.6,9.6),(31.8,8.4),(30.6,7.8),(29.4,8.6),
      (28.2,8.4),(28.4,7.0),(29.6,6.6),(30.8,6.2),(28.2,5.2),(29.4,4.8),(30.6,4.4),(31.6,5.4),(28.0,3.4),
      (29.2,2.8),(30.4,2.6),(31.4,3.4),(28.4,1.4),(29.6,0.8),(30.8,1.2),(28.8,-0.4),(30.0,-0.8),(31.0,-1.8),
      (31.8,-0.2),(29.0,-1.6),(32.0,1.8),(31.2,7.2),(32.2,8.0),
      (22.0,10.0),(22.8,9.2),(23.6,10.2),(21.2,10.6),(22.2,11.0),(23.0,8.2),(21.6,8.4),(24.0,9.0),(20.0,9.4),
      (25.0,10.4),(29.0,7.4),(30.0,5.6),(29.2,3.8),(30.0,1.6),(30.6,0.2),(29.8,-0.2),(33.0,11.2),(32.4,10.4),
      (28.8,5.8),(22.6,10.0),(23.0,9.6),(22.2,9.2),(23.2,10.8),(21.8,9.8),(29.4,5.6),(29.8,4.2)])

source = [s0, s1, s2, s3, s4, s5, s6, s7]
target = [t0, t1, t2, t3, t4, t5, t6, t7]

s_face = ['#00c864', '#2e8599', '#ff33cc', '#9414bc', '#ffff00', '#0000ff', '#bb8c00', '#e8700e']
s_edge = ['#00b058', '#1f6070', '#cc0099', '#7a1a98', '#d2d200', '#000080', '#7a5a00', '#a04a08']
t_color = ['#00b050', '#3a8ea0', '#ff40d8', '#761a96', '#cccc00', '#0000ff', '#c39200', '#f07818']

fig = plt.figure(figsize=(19.26, 15.77), dpi=100)
ax = fig.add_axes([0.0561, 0.0507, 0.9278, 0.8003])

for i, pts in enumerate(source):
    ax.scatter(pts[:, 0], pts[:, 1], s=340, c=s_face[i], edgecolors=s_edge[i], linewidths=1.1)
for i, pts in enumerate(target):
    ax.scatter(pts[:, 0], pts[:, 1], s=340, facecolors='none', edgecolors=t_color[i], linewidths=1.3)

ax.set_xlim(-50, 50)
ax.set_ylim(-50, 50)
ax.set_xticks(np.arange(-50, 51, 10))
ax.set_yticks(np.arange(-50, 51, 10))
ax.tick_params(axis='both', direction='in', labelsize=35, width=1.4, color='#222222')
ax.tick_params(axis='x', length=31, pad=18, top=False)
ax.tick_params(axis='y', length=33, pad=19, right=False)
ax.spines['top'].set_linewidth(2.3)
ax.spines['bottom'].set_linewidth(2.3)
ax.spines['left'].set_linewidth(1.6)
ax.spines['right'].set_linewidth(1.2)
for sp in ax.spines.values():
    sp.set_color('#2a2a2a')

# legend: column-major order so S and T of each class share a column
handles, labels = [], []
for i in range(8):
    handles.append(Line2D([], [], ls='', marker='o', markersize=33, markerfacecolor=s_face[i],
                          markeredgecolor=s_edge[i], markeredgewidth=2.2))
    labels.append(f'S{i}')
    handles.append(Line2D([], [], ls='', marker='o', markersize=31, markerfacecolor='none',
                          markeredgecolor=t_color[i], markeredgewidth=3.5))
    labels.append(f'T{i}')

fig.legend(handles, labels, loc='upper left', bbox_to_anchor=(0.1395, 0.993), ncol=8,
           frameon=False, fontsize=51, borderpad=0, borderaxespad=0, handlelength=0.8,
           handletextpad=0.15, columnspacing=0.565, labelspacing=0.88)

fig.savefig('out.png', dpi=100)
